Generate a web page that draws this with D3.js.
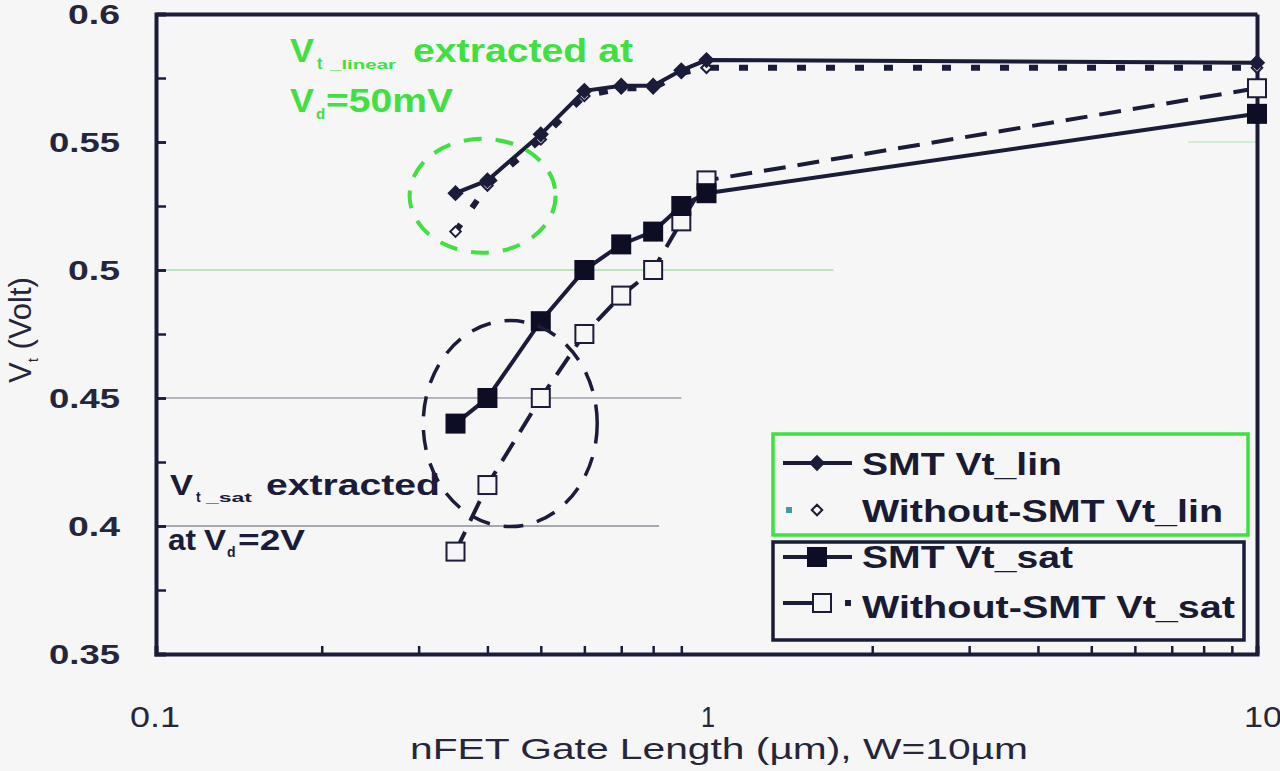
<!DOCTYPE html>
<html><head><meta charset="utf-8">
<script src="https://cdn.jsdelivr.net/npm/d3@7"></script>
<style>body{margin:0;background:#f6f6f6;}svg{display:block;font-family:"Liberation Sans",Arial,sans-serif;}</style>
</head><body><svg id="c" width="1280" height="771"></svg>
<script>
const gateLength = [0.35, 0.4, 0.5, 0.6, 0.7, 0.8, 0.9, 1.0, 10];
const smtLin     = [0.530, 0.535, 0.553, 0.570, 0.572, 0.572, 0.578, 0.582, 0.581];
const noSmtLin   = [0.515, 0.533, 0.551, 0.568, 0.571, 0.571, 0.577, 0.579, 0.579];
const smtSat     = [0.440, 0.450, 0.480, 0.500, 0.510, 0.515, 0.525, 0.530, 0.561];
const noSmtSat   = [0.390, 0.416, 0.450, 0.475, 0.490, 0.500, 0.519, 0.535, 0.571];
const yTicks = [0.35, 0.4, 0.45, 0.5, 0.55, 0.6];
const xTicks = [0.1, 1, 10];
const legendLabels = ["SMT Vt_lin", "Without-SMT Vt_lin", "SMT Vt_sat", "Without-SMT Vt_sat"];

const svg = d3.select("#c");
const W = 1280, H = 771;
const m = {l:156, r:1257, t:14, b:654};
const x = d3.scaleLog().domain([0.1, 10]).range([m.l, m.r]);
const y = d3.scaleLinear().domain([0.35, 0.6]).range([m.b, m.t]);
const ink = "#1b1b3a";
const green = "#3fe03f";
const bg = "#f6f6f6";

svg.append("rect").attr("width", W).attr("height", H).attr("fill", bg);

function fitText(sel, len) { return sel.attr("textLength", len).attr("lengthAdjust", "spacingAndGlyphs"); }

// faint horizontal guide lines
[[0.5, 0.1, 1.7, "#bde3bd"], [0.45, 0.1, 0.9, "#b4b4bc"], [0.4, 0.1, 0.82, "#a8a8b0"], [0.55, 7.5, 10, "#d3edd3"]].forEach(g => {
  svg.append("line").attr("x1", x(g[1])).attr("x2", x(g[2])).attr("y1", y(g[0])).attr("y2", y(g[0]))
    .attr("stroke", g[3]).attr("stroke-width", 2);
});

// axes
const gx = svg.append("g").attr("transform", `translate(0,${m.b})`)
  .call(d3.axisBottom(x).tickValues(d3.range(2,10).map(d=>d/10).concat(d3.range(2,10))).tickSize(-8).tickFormat(""));
const gxt = svg.append("g").attr("transform", `translate(0,${m.t})`)
  .call(d3.axisTop(x).tickValues([]).tickSize(0));
const gy = svg.append("g").attr("transform", `translate(${m.l},0)`)
  .call(d3.axisLeft(y).tickValues(d3.range(0.375, 0.6, 0.025).concat(yTicks)).tickSize(-10).tickFormat(""));
const gyr = svg.append("g").attr("transform", `translate(${m.r},0)`)
  .call(d3.axisRight(y).tickValues([]).tickSize(0));
[gx, gxt, gy, gyr].forEach(g => {
  g.selectAll("path").attr("stroke", ink).attr("stroke-width", 4);
  g.selectAll("line").attr("stroke", ink).attr("stroke-width", 2.5);
});

// tick labels
svg.append("g").selectAll("text").data(yTicks).join("text")
  .attr("x", 120).attr("y", d => y(d) + 10).attr("text-anchor", "end")
  .attr("font-size", 28).attr("font-weight", "bold").attr("fill", "#26263a")
  .attr("textLength", d => String(d).length === 3 ? 52 : 71).attr("lengthAdjust", "spacingAndGlyphs")
  .text(d => String(d));
svg.append("g").selectAll("text").data(xTicks).join("text")
  .attr("x", d => d === 0.1 ? 130 : d === 1 ? 701 : 1244).attr("y", 727)
  .attr("font-size", 30).attr("fill", "#26263a")
  .attr("textLength", d => d === 0.1 ? 50 : d === 1 ? 14 : 38).attr("lengthAdjust", "spacingAndGlyphs")
  .text(d => String(d));

// axis titles
fitText(svg.append("text").attr("x", 410).attr("y", 759)
  .attr("font-size", 29).attr("fill", "#26263a").text("nFET Gate Length (µm), W=10µm"), 618);
const yt = svg.append("text").attr("transform", "translate(31,330) rotate(-90)").attr("text-anchor", "middle")
  .attr("font-size", 31).attr("fill", "#26263a");
yt.append("tspan").text("V");
yt.append("tspan").attr("font-size", 15).attr("dy", 7).text("t");
yt.append("tspan").attr("dy", -7).text(" (Volt)");

// series
const pts = arr => gateLength.map((g,i) => [x(g), y(arr[i])]);
const line = d3.line();
const series = [
  {v: smtLin, dash: null, w: 4, marker: "diamondF"},
  {v: noSmtLin, dash: "9,20", w: 6, marker: "diamondO"},
  {v: smtSat, dash: null, w: 4, marker: "squareF"},
  {v: noSmtSat, dash: "22,12", w: 4, marker: "squareO"}
];
function drawMarker(g, type, cx, cy) {
  if (type === "diamondF") g.append("path").attr("d", d3.symbol(d3.symbolDiamond2, 170)()).attr("transform", `translate(${cx},${cy})`).attr("fill", ink);
  if (type === "diamondO") g.append("path").attr("d", d3.symbol(d3.symbolDiamond2, 70)()).attr("transform", `translate(${cx},${cy})`).attr("fill", bg).attr("stroke", ink).attr("stroke-width", 2);
  if (type === "squareF") g.append("rect").attr("x", cx-10).attr("y", cy-10).attr("width", 20).attr("height", 20).attr("fill", "#0d0d26");
  if (type === "squareO") g.append("rect").attr("x", cx-9).attr("y", cy-9).attr("width", 18).attr("height", 18).attr("fill", bg).attr("stroke", ink).attr("stroke-width", 2);
}
series.forEach(s => {
  const p = svg.append("path").attr("d", line(pts(s.v))).attr("fill", "none").attr("stroke", ink).attr("stroke-width", s.w);
  if (s.dash) p.attr("stroke-dasharray", s.dash);
});
series.slice().reverse().forEach(s => {
  const g = svg.append("g");
  pts(s.v).forEach(([cx, cy]) => drawMarker(g, s.marker, cx, cy));
});

// annotation ellipses
svg.append("ellipse").attr("cx", x(0.392)).attr("cy", y(0.529)).attr("rx", 73).attr("ry", 57)
  .attr("fill", "none").attr("stroke", green).attr("stroke-width", 4).attr("stroke-dasharray", "18,14");
svg.append("ellipse").attr("cx", x(0.44)).attr("cy", y(0.44)).attr("rx", 87).attr("ry", 103)
  .attr("fill", "none").attr("stroke", ink).attr("stroke-width", 3.5).attr("stroke-dasharray", "20,14");

// annotation texts
function txt(tx, ty, s, size, color, len, weight) {
  const t = svg.append("text").attr("x", tx).attr("y", ty).attr("font-size", size)
    .attr("font-weight", weight || "bold").attr("fill", color).text(s);
  if (len) fitText(t, len);
  return t;
}
// green: V_t_linear extracted at / V_d=50mV
txt(290, 62, "V", 34, green, 24);
txt(317, 69, "t", 16, green);
txt(330, 69, "_linear", 13, green, 66);
txt(413, 62, "extracted at", 34, green, 220);
txt(290, 112, "V", 34, green, 24);
txt(316, 119, "d", 15, green);
txt(326, 112, "=50mV", 34, green, 127);
// black: V_t_sat extracted / at V_d=2V
txt(170, 495, "V", 30, ink, 23);
txt(196, 502, "t", 14, ink);
txt(206, 502, "_sat", 12, ink, 46);
txt(266, 495, "extracted", 30, ink, 174);
txt(168, 550, "at", 30, ink, 28);
txt(204, 550, "V", 30, ink, 22);
txt(227, 557, "d", 14, ink);
txt(238, 550, "=2V", 30, ink, 67);

// legend
svg.append("rect").attr("x", 773).attr("y", 434).attr("width", 475).attr("height", 101).attr("fill", bg).attr("stroke", green).attr("stroke-width", 3.5);
svg.append("rect").attr("x", 773).attr("y", 542).attr("width", 471).attr("height", 98).attr("fill", bg).attr("stroke", ink).attr("stroke-width", 3.5);
const ly = [463, 510, 557, 603];
const lbase = [475, 522, 568, 618];
const lend = [1062, 1223, 1073, 1235];
legendLabels.forEach((lab, i) => {
  const s = series[i];
  if (i === 1) {
    svg.append("rect").attr("x", 786).attr("y", ly[i]-3).attr("width", 6).attr("height", 6).attr("fill", "#3a9ea8");
  } else if (i === 3) {
    svg.append("line").attr("x1", 783).attr("x2", 822).attr("y1", ly[i]).attr("y2", ly[i]).attr("stroke", ink).attr("stroke-width", 4);
    svg.append("rect").attr("x", 845).attr("y", ly[i]-3).attr("width", 6).attr("height", 6).attr("fill", ink);
  } else {
    svg.append("line").attr("x1", 783).attr("x2", 852).attr("y1", ly[i]).attr("y2", ly[i]).attr("stroke", ink).attr("stroke-width", 4);
  }
  drawMarker(svg, s.marker, i === 3 ? 822 : 817, ly[i]);
  fitText(svg.append("text").attr("x", 862).attr("y", lbase[i]).attr("font-size", 32).attr("fill", "#1a1a33")
    .attr("font-weight", "bold").text(lab), lend[i] - 862);
});
</script></body></html>
